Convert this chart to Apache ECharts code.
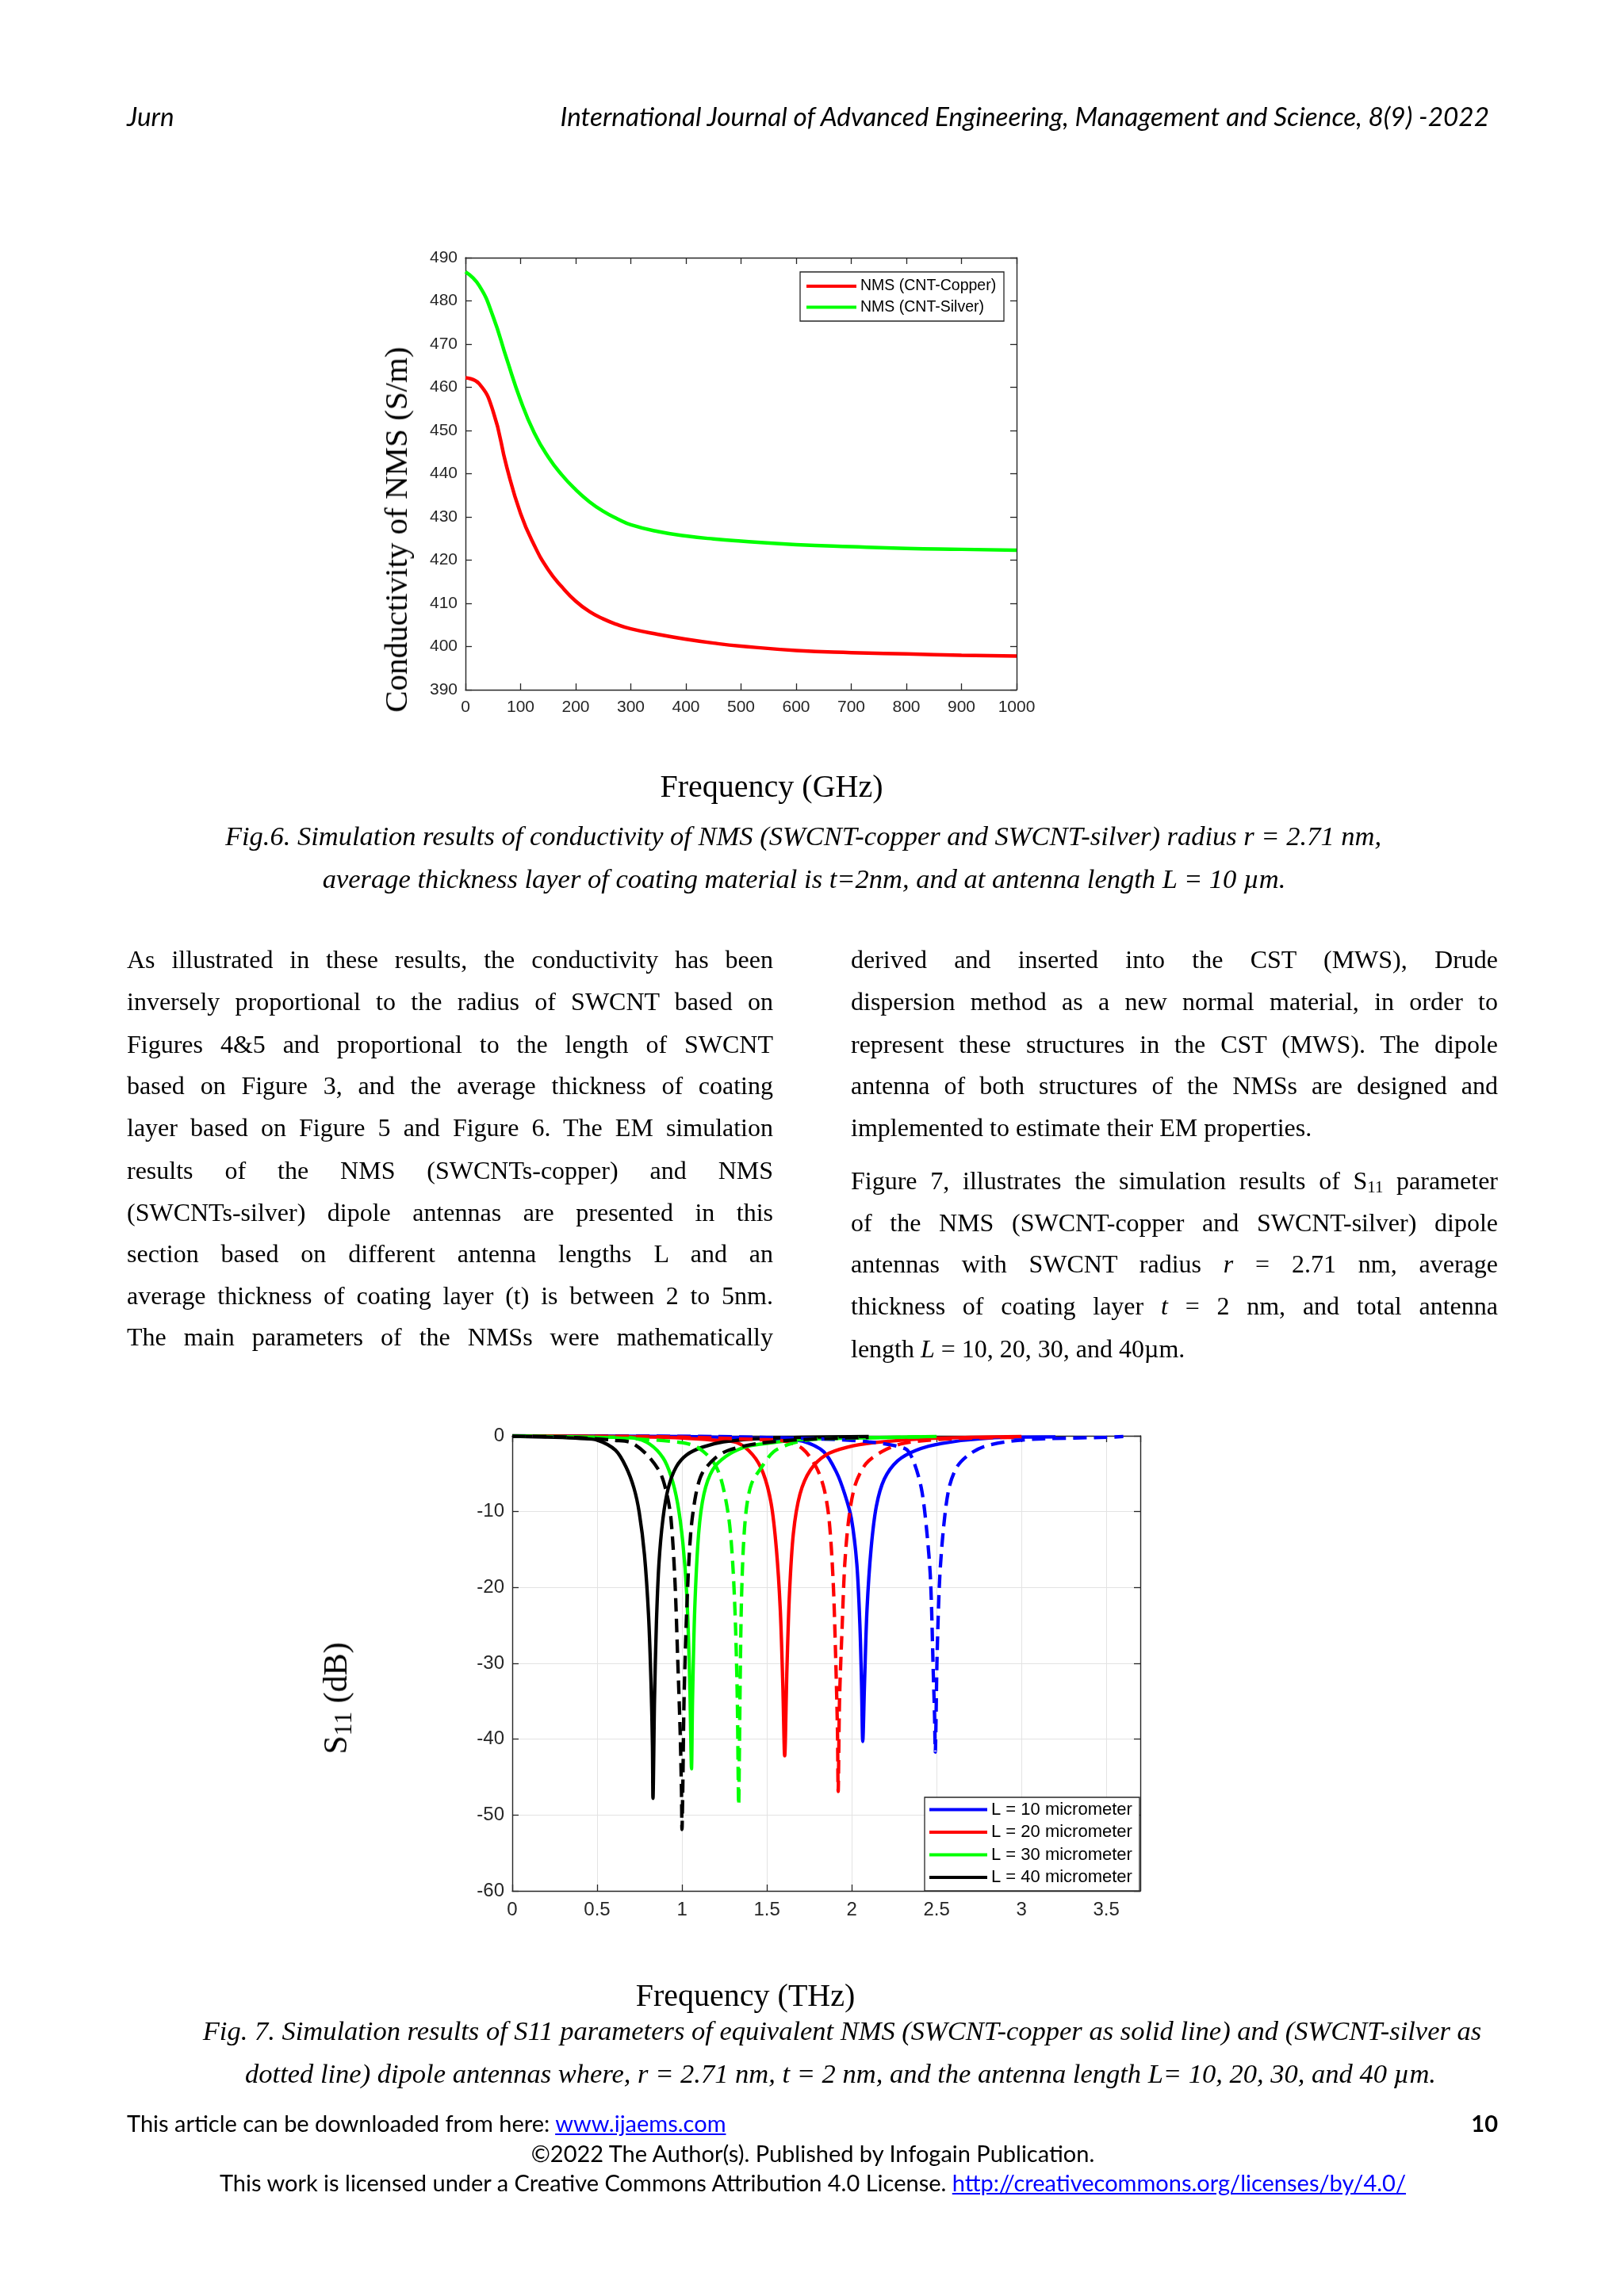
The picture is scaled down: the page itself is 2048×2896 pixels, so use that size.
<!DOCTYPE html>
<html>
<head>
<meta charset="utf-8">
<script src="https://cdn.jsdelivr.net/npm/echarts@6/dist/echarts.min.js"></script>
<style>
html,body{margin:0;padding:0;background:#fff;}
#page{position:relative;width:2048px;height:2896px;overflow:hidden;background:#fff;}
#c{position:absolute;left:0;top:0;width:2048px;height:2896px;}
.t{position:absolute;white-space:nowrap;color:#000;}
.hdr{font-family:Lato,"Open Sans",sans-serif;font-style:italic;font-size:33.3px;line-height:40px;}
.ctr{transform:translate(-50%,-50%);}
.rot{transform:translate(-50%,-50%) rotate(-90deg);}
.ttl{font-family:"Liberation Serif","DejaVu Serif",serif;font-size:40px;line-height:44px;}
.cap{font-family:"Liberation Serif",serif;font-style:italic;font-size:34.5px;line-height:40px;}
.ln{position:absolute;font-family:"Liberation Serif",serif;font-size:32px;line-height:40px;text-align:justify;text-align-last:justify;white-space:nowrap;color:#000;}
.ln.last{text-align-last:left;}
.ft{font-family:Lato,"Open Sans",sans-serif;font-size:29px;line-height:34px;}
a{color:#0000ff;text-decoration:underline;}
sub{font-size:0.65em;vertical-align:-0.2em;line-height:0;}
.s11 sub{font-size:0.75em;}
</style>
</head>
<body>
<div id="page">
<div id="c"></div>

<div class="t hdr" style="left:160px;top:126px">Jurn</div>
<div class="t hdr" style="right:170px;top:126px">International Journal of Advanced Engineering, Management and Science, 8(9) -2022</div>

<div class="t ttl rot" style="left:499px;top:668px;font-size:41px">Conductivity of NMS (S/m)</div>
<div class="t ttl ctr" style="left:973px;top:992px">Frequency (GHz)</div>

<div class="t cap ctr" style="left:1013px;top:1054px">Fig.6. Simulation results of conductivity of NMS (SWCNT-copper and SWCNT-silver) radius r = 2.71 nm,</div>
<div class="t cap ctr" style="left:1014px;top:1108px">average thickness layer of coating material is t=2nm, and at antenna length L = 10 µm.</div>

<div class="ln" style="left:160px;top:1190px;width:815px">As illustrated in these results, the conductivity has been</div>
<div class="ln" style="left:160px;top:1243px;width:815px">inversely proportional to the radius of SWCNT based on</div>
<div class="ln" style="left:160px;top:1297px;width:815px">Figures 4&amp;5 and proportional to the length of SWCNT</div>
<div class="ln" style="left:160px;top:1349px;width:815px">based on Figure 3, and the average thickness of coating</div>
<div class="ln" style="left:160px;top:1402px;width:815px">layer based on Figure 5 and Figure 6. The EM simulation</div>
<div class="ln" style="left:160px;top:1456px;width:815px">results of the NMS (SWCNTs-copper) and NMS</div>
<div class="ln" style="left:160px;top:1509px;width:815px">(SWCNTs-silver) dipole antennas are presented in this</div>
<div class="ln" style="left:160px;top:1561px;width:815px">section based on different antenna lengths L and an</div>
<div class="ln" style="left:160px;top:1614px;width:815px">average thickness of coating layer (t) is between 2 to 5nm.</div>
<div class="ln" style="left:160px;top:1666px;width:815px">The main parameters of the NMSs were mathematically</div>

<div class="ln" style="left:1073px;top:1190px;width:816px">derived and inserted into the CST (MWS), Drude</div>
<div class="ln" style="left:1073px;top:1243px;width:816px">dispersion method as a new normal material, in order to</div>
<div class="ln" style="left:1073px;top:1297px;width:816px">represent these structures in the CST (MWS). The dipole</div>
<div class="ln" style="left:1073px;top:1349px;width:816px">antenna of both structures of the NMSs are designed and</div>
<div class="ln last" style="left:1073px;top:1402px;width:816px">implemented to estimate their EM properties.</div>
<div class="ln" style="left:1073px;top:1469px;width:816px">Figure 7, illustrates the simulation results of S<sub>11</sub> parameter</div>
<div class="ln" style="left:1073px;top:1522px;width:816px">of the NMS (SWCNT-copper and SWCNT-silver) dipole</div>
<div class="ln" style="left:1073px;top:1574px;width:816px">antennas with SWCNT radius <i>r</i> = 2.71 nm, average</div>
<div class="ln" style="left:1073px;top:1627px;width:816px">thickness of coating layer <i>t</i> = 2 nm, and total antenna</div>
<div class="ln last" style="left:1073px;top:1681px;width:816px">length <i>L</i> = 10, 20, 30, and 40µm.</div>

<div class="t ttl rot s11" style="left:423px;top:2142px;font-size:42px">S<sub>11</sub> (dB)</div>
<div class="t ttl ctr" style="left:940px;top:2517px">Frequency (THz)</div>

<div class="t cap ctr" style="left:1062px;top:2561px">Fig. 7. Simulation results of S11 parameters of equivalent NMS (SWCNT-copper as solid line) and (SWCNT-silver as</div>
<div class="t cap ctr" style="left:1060px;top:2615px">dotted line) dipole antennas where, r = 2.71 nm, t = 2 nm, and the antenna length L= 10, 20, 30, and 40 µm.</div>

<div class="t ft" style="left:160px;top:2661px">This article can be downloaded from here: <a>www.ijaems.com</a></div>
<div class="t ft" style="right:159px;top:2661px;font-weight:bold">10</div>
<div class="t ft ctr" style="left:1025px;top:2716px">©2022 The Author(s). Published by Infogain Publication.</div>
<div class="t ft ctr" style="left:1025px;top:2753px">This work is licensed under a Creative Commons Attribution 4.0 License. <a>http://creativecommons.org/licenses/by/4.0/</a></div>
</div>

<script>
// ---------- Figure 6 data ----------
const fig6Freq   = [0, 25, 50, 75, 100, 125, 150, 175, 200, 225, 250, 275, 300, 350, 400, 450, 500, 600, 700, 800, 900, 1000];
const fig6Copper = [462.2, 460.8, 454.5, 441.5, 430.8, 423.4, 417.8, 413.8, 410.5, 408.1, 406.4, 405.1, 404.1, 402.8, 401.7, 400.8, 400.1, 399.1, 398.6, 398.3, 398.0, 397.8];
const fig6Silver = [486.7, 483.5, 476.4, 466.5, 457.0, 449.4, 443.9, 439.7, 436.3, 433.5, 431.3, 429.6, 428.2, 426.6, 425.6, 424.9, 424.4, 423.6, 423.1, 422.7, 422.5, 422.3];
const fig6XTicks = [0, 1000, 100];
const fig6YTicks = [390, 490, 10];

// ---------- Figure 7 data (frequency THz / S11 dB) ----------
const bSolidF = [0, 0.25, 0.4, 0.5, 0.608, 0.67, 0.717, 0.748, 0.779, 0.803, 0.818, 0.826, 0.829, 0.838, 0.849, 0.864, 0.888, 0.919, 0.966, 1.028, 1.12, 1.245, 1.43, 1.7, 2.1];
const bSolidS = [-0.05, -0.2, -0.35, -0.56, -1.9, -4.1, -6.9, -10.1, -15.7, -23.7, -32.9, -40.9, -47.8, -34.9, -24.9, -16.9, -10.9, -6.9, -4.1, -2.5, -1.5, -0.8, -0.4, -0.2, -0.1];
const bDashF  = [0, 0.3, 0.5, 0.6, 0.70, 0.794, 0.872, 0.911, 0.935, 0.958, 0.974, 0.989, 0.997, 1.0, 1.005, 1.012, 1.028, 1.051, 1.082, 1.12, 1.198, 1.275, 1.45, 1.7, 2.1];
const bDashS  = [-0.05, -0.15, -0.4, -0.6, -0.9, -2.5, -4.9, -7.7, -10.9, -18.9, -28.9, -38.9, -46.9, -51.9, -46.0, -34.9, -22.9, -12.9, -7.7, -4.9, -2.9, -1.9, -1.0, -0.5, -0.2];
const gSolidF = [0, 0.4, 0.6, 0.717, 0.81, 0.888, 0.935, 0.974, 1.005, 1.028, 1.044, 1.051, 1.056, 1.062, 1.075, 1.098, 1.129, 1.18, 1.26, 1.369, 1.46, 1.7, 2.0, 2.5];
const gSolidS = [0, -0.15, -0.2, -0.3, -1.1, -2.9, -5.3, -8.9, -14.1, -20.9, -30.9, -38.9, -43.9, -34.9, -22.9, -12.9, -7.7, -4.5, -2.7, -1.5, -1.1, -0.5, -0.3, -0.1];
const gDashF  = [0, 0.5, 0.8, 1.0, 1.09, 1.18, 1.23, 1.276, 1.299, 1.315, 1.326, 1.334, 1.338, 1.343, 1.35, 1.362, 1.38, 1.41, 1.47, 1.54, 1.634, 1.757, 2.0, 2.4];
const gDashS  = [0, -0.2, -0.5, -0.9, -1.5, -3.3, -5.7, -10.9, -16.9, -24.9, -34.9, -48.7, -42.0, -32.0, -22.0, -14.5, -9.5, -6.3, -4.1, -2.1, -1.1, -0.5, -0.3, -0.15];
const rSolidF = [0, 0.6, 1.0, 1.2, 1.323, 1.416, 1.478, 1.525, 1.556, 1.579, 1.594, 1.605, 1.618, 1.633, 1.656, 1.695, 1.757, 1.85, 1.974, 2.13, 2.41, 2.7, 3.0];
const rSolidS = [0, -0.1, -0.3, -0.6, -0.9, -2.5, -4.9, -8.9, -14.9, -22.9, -32.9, -42.2, -30.9, -20.9, -12.9, -7.7, -4.5, -2.5, -1.5, -0.9, -0.4, -0.2, -0.1];
const rDashF  = [0, 0.8, 1.2, 1.45, 1.602, 1.71, 1.79, 1.836, 1.866, 1.89, 1.905, 1.916, 1.92, 1.928, 1.944, 1.959, 1.983, 2.02, 2.083, 2.176, 2.285, 2.44, 2.7, 3.0];
const rDashS  = [0, -0.1, -0.3, -0.5, -0.7, -1.7, -4.1, -6.9, -10.9, -18.9, -28.9, -38.9, -46.9, -34.9, -24.9, -16.9, -10.9, -6.5, -3.7, -2.1, -1.1, -0.6, -0.3, -0.2];
const uSolidF = [0, 1.0, 1.4, 1.6, 1.71, 1.835, 1.912, 1.959, 1.998, 2.03, 2.048, 2.058, 2.065, 2.075, 2.09, 2.114, 2.145, 2.192, 2.27, 2.38, 2.53, 2.81, 3.2];
const uSolidS = [0, -0.1, -0.3, -0.5, -0.7, -2.1, -4.9, -7.7, -10.9, -16.9, -24.9, -32.9, -40.3, -32.9, -22.9, -14.9, -9.3, -5.7, -3.3, -1.9, -1.0, -0.3, -0.15];
const uDashF  = [0, 1.2, 1.8, 2.1, 2.315, 2.363, 2.41, 2.44, 2.464, 2.48, 2.488, 2.492, 2.503, 2.518, 2.541, 2.573, 2.62, 2.689, 2.782, 2.938, 3.125, 3.5, 3.6];
const uDashS  = [0, -0.1, -0.4, -0.8, -1.7, -3.3, -6.9, -12.1, -18.9, -30.9, -37.0, -41.7, -28.9, -18.9, -12.1, -6.9, -4.1, -2.5, -1.4, -0.7, -0.4, -0.2, -0.1];
const fig7Names = ['L = 10 micrometer', 'L = 20 micrometer', 'L = 30 micrometer', 'L = 40 micrometer'];
const fig7XTicks = [0, 3.7, 0.5];
const fig7YTicks = [-60, 0, 10];

const zip = (xs, ys) => xs.map((x, i) => [x, ys[i]]);
const AX = '#262626';
const FONT = '"Liberation Sans", Arial, sans-serif';

function boxAxes(gridIndex, xt, yt, split, fs, xExtra) {
  const sl = {show: split, lineStyle: {color: '#e3e3e3', width: 1}};
  const lbl = {fontFamily: FONT, fontSize: fs, color: AX, formatter: v => String(v)};
  const line = {show: true, onZero: false, lineStyle: {color: AX, width: 1.4}};
  const tick = {show: true, inside: true, length: 8, lineStyle: {color: AX, width: 1.3}};
  const xs = [
    {type: 'value', gridIndex, position: 'bottom', min: xt[0], max: xt[1], interval: xt[2],
     axisLine: line, axisTick: tick, axisLabel: Object.assign({show: true, margin: 12}, lbl, xExtra || {}), splitLine: sl},
    {type: 'value', gridIndex, position: 'top', min: xt[0], max: xt[1], interval: xt[2],
     axisLine: line, axisTick: tick, axisLabel: {show: false}, splitLine: {show: false}}
  ];
  const ys = [
    {type: 'value', gridIndex, position: 'left', min: yt[0], max: yt[1], interval: yt[2],
     axisLine: line, axisTick: tick, axisLabel: Object.assign({show: true, margin: 10}, lbl), splitLine: sl},
    {type: 'value', gridIndex, position: 'right', min: yt[0], max: yt[1], interval: yt[2],
     axisLine: line, axisTick: tick, axisLabel: {show: false}, splitLine: {show: false}}
  ];
  return {xs, ys};
}

const a1 = boxAxes(0, fig6XTicks, fig6YTicks, false, 21);
const a2 = boxAxes(1, fig7XTicks, fig7YTicks, true, 24, {showMaxLabel: false});

const colors = ['#0000ff', '#ff0000', '#00ff00', '#000000'];
const solids = [[uSolidF, uSolidS], [rSolidF, rSolidS], [gSolidF, gSolidS], [bSolidF, bSolidS]];
const dashes = [[uDashF, uDashS], [rDashF, rDashS], [gDashF, gDashS], [bDashF, bDashS]];

const series = [
  {name: 'NMS (CNT-Copper)', type: 'line', xAxisIndex: 0, yAxisIndex: 0, data: zip(fig6Freq, fig6Copper),
   smooth: 0.5, symbol: 'none', color: '#ff0000', lineStyle: {width: 4.5, color: '#ff0000'}},
  {name: 'NMS (CNT-Silver)', type: 'line', xAxisIndex: 0, yAxisIndex: 0, data: zip(fig6Freq, fig6Silver),
   smooth: 0.5, symbol: 'none', color: '#00ff00', lineStyle: {width: 4.5, color: '#00ff00'}}
];
solids.forEach((d, i) => series.push({
  name: fig7Names[i], type: 'line', xAxisIndex: 2, yAxisIndex: 2, data: zip(d[0], d[1]),
  smooth: 0.3, symbol: 'none', color: colors[i],
  lineStyle: {width: 4.3, color: colors[i]}, z: 3
}));
dashes.forEach((d, i) => series.push({
  name: fig7Names[i] + ' silver', type: 'line', xAxisIndex: 2, yAxisIndex: 2, data: zip(d[0], d[1]),
  smooth: 0.3, symbol: 'none', color: colors[i],
  lineStyle: {width: 4.3, color: colors[i], type: [17, 9]}, z: 3
}));

const chart = echarts.init(document.getElementById('c'), null, {renderer: 'canvas', width: 2048, height: 2896});
chart.setOption({
  animation: false,
  backgroundColor: 'transparent',
  grid: [
    {left: 587, top: 325, width: 695, height: 545, outerBoundsMode: 'none', containLabel: false},
    {left: 646, top: 1811, width: 792, height: 574, outerBoundsMode: 'none', containLabel: false}
  ],
  xAxis: a1.xs.concat(a2.xs),
  yAxis: a1.ys.concat(a2.ys),
  graphic: [
    {type: 'rect', shape: {x: 1009, y: 343, width: 257, height: 62}, style: {fill: '#fff', stroke: AX, lineWidth: 1.3}, z: 10},
    {type: 'rect', shape: {x: 1166, y: 2267, width: 271, height: 118}, style: {fill: '#fff', stroke: AX, lineWidth: 1.3}, z: 10}
  ],
  legend: [
    {data: ['NMS (CNT-Copper)', 'NMS (CNT-Silver)'], orient: 'vertical', left: 1017, top: 349.5, padding: 0,
     align: 'left', icon: 'rect', itemWidth: 63, itemHeight: 4, itemGap: 3.5, z: 20, selectedMode: false,
     textStyle: {fontFamily: FONT, fontSize: 19.5, lineHeight: 23, color: '#000'}},
    {data: fig7Names, orient: 'vertical', left: 1172, top: 2270, padding: 0,
     align: 'left', icon: 'rect', itemWidth: 73, itemHeight: 4, itemGap: 3.5, z: 20, selectedMode: false,
     textStyle: {fontFamily: FONT, fontSize: 22, lineHeight: 25, color: '#000'}}
  ],
  series
});
</script>
</body>
</html>
